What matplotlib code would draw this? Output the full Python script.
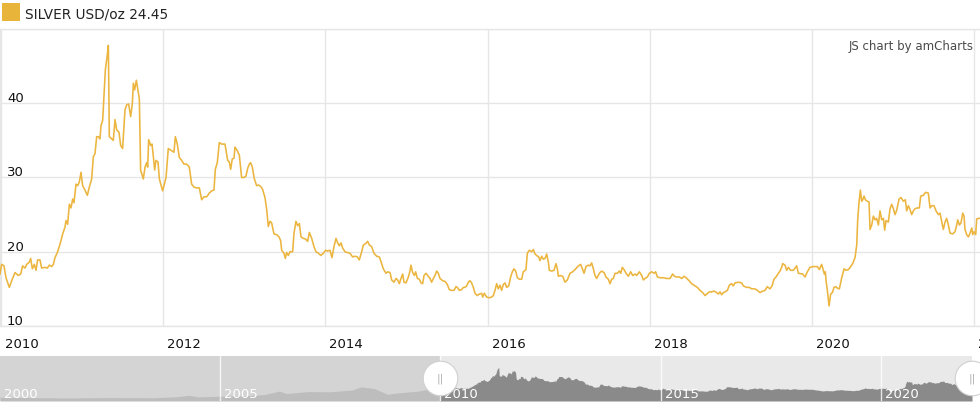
import matplotlib
matplotlib.use("Agg")
import matplotlib.pyplot as plt
from matplotlib import transforms
from matplotlib.patches import Rectangle

# ---------------- data ----------------
series_name = "SILVER USD/oz"
last_price = "24.45"

years = [
    2009.988, 2010.008, 2010.037, 2010.062, 2010.103, 2010.132, 2010.173, 2010.214, 2010.243, 2010.267,
    2010.296, 2010.317, 2010.350, 2010.366, 2010.387, 2010.411, 2010.432, 2010.452, 2010.481, 2010.502,
    2010.543, 2010.572, 2010.596, 2010.625, 2010.646, 2010.666, 2010.695, 2010.728, 2010.761, 2010.789,
    2010.802, 2010.822, 2010.843, 2010.863, 2010.884, 2010.900, 2010.925, 2010.946, 2010.966, 2010.987,
    2011.007, 2011.036, 2011.065, 2011.089, 2011.118, 2011.139, 2011.159, 2011.180, 2011.200, 2011.221,
    2011.233, 2011.254, 2011.270, 2011.287, 2011.311, 2011.324, 2011.336, 2011.365, 2011.385, 2011.406,
    2011.427, 2011.455, 2011.476, 2011.500, 2011.529, 2011.550, 2011.574, 2011.599, 2011.620, 2011.632,
    2011.648, 2011.669, 2011.685, 2011.706, 2011.722, 2011.755, 2011.776, 2011.796, 2011.809, 2011.821,
    2011.846, 2011.862, 2011.879, 2011.895, 2011.911, 2011.936, 2011.953,
    2011.993, 2012.010, 2012.035, 2012.063, 2012.104, 2012.133, 2012.150, 2012.174, 2012.199, 2012.228,
    2012.256, 2012.289, 2012.322, 2012.351, 2012.380, 2012.413, 2012.446, 2012.474, 2012.503, 2012.536,
    2012.569, 2012.598, 2012.626, 2012.643, 2012.667, 2012.692, 2012.721, 2012.762, 2012.795, 2012.815,
    2012.832, 2012.852, 2012.873, 2012.885, 2012.914, 2012.939, 2012.967, 2012.996, 2013.021, 2013.041,
    2013.062, 2013.078, 2013.099, 2013.124, 2013.152, 2013.173, 2013.202, 2013.226, 2013.255, 2013.276,
    2013.296, 2013.317, 2013.337, 2013.366, 2013.399, 2013.428, 2013.448, 2013.461, 2013.489, 2013.506,
    2013.522, 2013.543, 2013.563, 2013.596, 2013.613, 2013.637, 2013.658, 2013.679, 2013.699, 2013.728,
    2013.757, 2013.781, 2013.802, 2013.831, 2013.859, 2013.884, 2013.913, 2013.946, 2013.974, 2014.003,
    2014.028, 2014.057, 2014.081, 2014.106, 2014.131, 2014.151, 2014.172, 2014.192, 2014.213, 2014.242,
    2014.270,
    2014.303, 2014.336, 2014.365, 2014.394, 2014.418, 2014.447, 2014.468, 2014.497, 2014.521, 2014.542,
    2014.570, 2014.599, 2014.632, 2014.665, 2014.694, 2014.714, 2014.747, 2014.768, 2014.797, 2014.817,
    2014.846, 2014.871, 2014.891, 2014.912, 2014.932, 2014.953, 2014.969, 2014.994, 2015.023, 2015.043,
    2015.055, 2015.076, 2015.097, 2015.113, 2015.134, 2015.158, 2015.179, 2015.199, 2015.216, 2015.240,
    2015.269, 2015.290, 2015.310, 2015.331, 2015.351, 2015.372, 2015.392, 2015.413, 2015.446, 2015.475,
    2015.503, 2015.528, 2015.557, 2015.586, 2015.610, 2015.627, 2015.651, 2015.680, 2015.701, 2015.721,
    2015.742, 2015.762, 2015.783, 2015.803, 2015.824, 2015.845, 2015.873, 2015.898, 2015.927, 2015.939,
    2015.960, 2015.988, 2016.021, 2016.050, 2016.071, 2016.091, 2016.112, 2016.132, 2016.153, 2016.173,
    2016.194, 2016.214, 2016.235, 2016.260, 2016.284, 2016.305, 2016.325, 2016.346, 2016.367, 2016.391,
    2016.420, 2016.440, 2016.473, 2016.490, 2016.514, 2016.543, 2016.564, 2016.584, 2016.605, 2016.630,
    2016.646, 2016.667, 2016.687, 2016.708, 2016.728, 2016.749, 2016.761, 2016.790, 2016.819, 2016.843,
    2016.860, 2016.872,
    2016.893, 2016.926, 2016.954, 2016.983, 2017.016, 2017.049, 2017.078, 2017.119, 2017.148, 2017.172,
    2017.189, 2017.213, 2017.242, 2017.263, 2017.283, 2017.304, 2017.324, 2017.345, 2017.378, 2017.406,
    2017.435, 2017.460, 2017.489, 2017.509, 2017.530, 2017.550, 2017.571, 2017.600, 2017.624, 2017.641,
    2017.661, 2017.682, 2017.707, 2017.735, 2017.764, 2017.789, 2017.817, 2017.838, 2017.871, 2017.900,
    2017.920, 2017.941, 2017.970, 2017.994, 2018.023, 2018.052, 2018.072, 2018.093, 2018.126, 2018.167,
    2018.208, 2018.249, 2018.282, 2018.303, 2018.331, 2018.364, 2018.393, 2018.422, 2018.446, 2018.475,
    2018.516, 2018.557, 2018.586, 2018.619, 2018.652, 2018.681, 2018.701, 2018.734, 2018.763, 2018.792,
    2018.824, 2018.845, 2018.866, 2018.886, 2018.907, 2018.927, 2018.956, 2018.981, 2019.009, 2019.030,
    2019.050, 2019.092, 2019.133, 2019.153, 2019.194, 2019.227, 2019.256, 2019.297, 2019.326, 2019.359,
    2019.392, 2019.420, 2019.449, 2019.482, 2019.507, 2019.531, 2019.556, 2019.585, 2019.605, 2019.626,
    2019.638, 2019.667, 2019.687, 2019.708, 2019.737, 2019.770, 2019.811, 2019.831,
    2019.885, 2019.914, 2019.942, 2019.975, 2020.008, 2020.037, 2020.066, 2020.090, 2020.119, 2020.140,
    2020.152, 2020.164, 2020.173, 2020.189, 2020.210, 2020.230, 2020.251, 2020.271, 2020.292, 2020.312,
    2020.337, 2020.366, 2020.395, 2020.419, 2020.448, 2020.477, 2020.501, 2020.530, 2020.551, 2020.563,
    2020.579, 2020.596, 2020.612, 2020.625, 2020.641, 2020.658, 2020.682, 2020.703, 2020.715, 2020.736,
    2020.756, 2020.777, 2020.797, 2020.818, 2020.838, 2020.859, 2020.880, 2020.896, 2020.912, 2020.941,
    2020.962, 2020.982, 2021.003, 2021.023, 2021.044, 2021.073, 2021.097, 2021.126, 2021.151, 2021.167,
    2021.188, 2021.208, 2021.229, 2021.249, 2021.270, 2021.299, 2021.323, 2021.340, 2021.373, 2021.401,
    2021.434, 2021.455, 2021.475, 2021.504, 2021.529, 2021.558, 2021.578, 2021.599, 2021.619, 2021.640,
    2021.660, 2021.681, 2021.702, 2021.734, 2021.763, 2021.784, 2021.796, 2021.817, 2021.837, 2021.858,
    2021.874, 2021.886, 2021.907, 2021.928, 2021.948, 2021.969, 2021.981, 2021.997, 2022.018, 2022.030,
    2022.051, 2022.071,
]

prices = [
    17.0, 18.3, 18.1, 16.5, 15.2, 16.1, 17.2, 16.8, 17.0, 18.1,
    17.8, 18.3, 18.6, 19.1, 17.7, 18.3, 17.5, 18.9, 18.9, 17.8,
    17.9, 17.8, 18.2, 18.0, 18.3, 19.2, 19.9, 21.0, 22.4, 23.3,
    24.2, 23.7, 26.4, 25.9, 27.1, 26.6, 29.1, 28.9, 29.4, 30.7,
    28.9, 28.3, 27.6, 28.7, 29.8, 32.8, 33.2, 35.5, 35.5, 35.2,
    37.0, 37.7, 40.9, 44.5, 46.5, 47.8, 35.5, 35.2, 35.0, 37.8,
    36.4, 36.1, 34.3, 33.9, 39.1, 39.8, 39.9, 38.2, 40.0, 42.7,
    41.8, 43.1, 42.0, 40.6, 31.0, 29.8, 31.4, 32.0, 31.4, 35.1,
    34.3, 34.5, 32.8, 31.0, 32.3, 32.1, 29.8,
    28.2, 28.9, 30.0, 33.9, 33.6, 33.4, 35.5, 34.5, 32.7, 32.3,
    31.8, 31.8, 31.4, 29.1, 28.7, 28.6, 28.6, 27.0, 27.4, 27.4,
    27.9, 28.2, 28.3, 31.1, 32.0, 34.7, 34.5, 34.5, 32.3, 32.1,
    31.1, 32.5, 32.6, 34.1, 33.6, 33.0, 30.0, 30.0, 30.2, 31.2,
    31.8, 32.0, 31.4, 29.8, 28.9, 29.0, 28.8, 28.4, 27.3, 25.7,
    23.4, 24.1, 23.9, 22.4, 22.3, 22.0, 21.5, 20.2, 19.8, 19.1,
    19.9, 19.5, 20.0, 20.0, 22.5, 24.1, 23.5, 23.8, 22.0, 21.8,
    21.7, 21.4, 22.6, 21.8, 20.7, 20.0, 19.8, 19.5, 19.8, 20.2,
    20.1, 20.2, 19.2, 20.7, 21.8, 21.2, 20.8, 21.2, 20.5, 20.0,
    19.9,
    19.8, 19.3, 19.4, 19.3, 18.9, 20.0, 20.9, 21.1, 21.4, 20.9,
    20.7, 19.8, 19.4, 19.3, 18.4, 17.7, 17.1, 17.3, 17.2, 16.2,
    15.9, 16.4, 16.2, 15.7, 16.4, 17.0, 15.9, 15.8, 16.6, 17.4,
    18.2, 17.2, 16.8, 17.3, 16.4, 16.3, 15.8, 15.7, 16.8, 17.1,
    16.7, 16.4, 15.9, 16.4, 16.8, 17.4, 17.1, 16.4, 16.1, 16.0,
    15.6, 14.9, 14.8, 14.8, 15.3, 15.2, 14.8, 14.9, 15.2, 15.2,
    15.4, 15.9, 16.1, 15.8, 15.2, 14.4, 14.1, 14.3, 14.4, 13.9,
    14.4, 13.9, 13.8, 13.9, 14.1, 14.8, 15.7, 15.0, 15.5, 14.8,
    15.6, 15.8, 15.2, 15.4, 16.6, 17.3, 17.7, 17.4, 16.5, 16.3,
    16.3, 17.3, 17.6, 19.8, 20.2, 20.0, 20.3, 19.7, 19.5, 19.3,
    18.8, 19.4, 19.0, 19.1, 19.7, 18.6, 17.5, 17.4, 17.5, 18.4,
    17.7, 16.7,
    16.8, 16.7, 15.9, 16.2, 17.1, 17.3, 17.6, 18.1, 18.3, 17.6,
    17.1, 18.0, 18.2, 18.1, 18.5, 17.7, 16.8, 16.4, 17.1, 17.4,
    17.2, 16.6, 16.3, 15.7, 16.3, 16.4, 17.1, 17.1, 17.4, 17.1,
    17.9, 17.6, 17.1, 16.7, 17.3, 16.8, 17.0, 16.8, 17.3, 16.8,
    16.2, 16.4, 16.6, 17.1, 17.3, 17.1, 17.3, 16.6, 16.5, 16.5,
    16.4, 16.4, 17.0, 16.7, 16.6, 16.6, 16.4, 16.7, 16.5, 16.2,
    15.7, 15.4, 15.2, 14.8, 14.5, 14.1, 14.3, 14.6, 14.6, 14.7,
    14.5, 14.3, 14.6, 14.2, 14.5, 14.6, 14.8, 15.5, 15.7, 15.4,
    15.8, 15.9, 15.8, 15.4, 15.2, 15.2, 15.0, 15.0, 14.8, 14.5,
    14.7, 14.8, 15.3, 15.0, 15.4, 16.3, 16.6, 17.1, 17.4, 17.9,
    18.4, 18.2, 17.5, 17.9, 17.5, 17.5, 18.1, 17.1,
    17.0, 16.6, 17.3, 17.9, 18.0, 18.0, 18.0, 17.6, 18.3, 17.5,
    17.0, 17.3, 16.1, 14.8, 12.7, 14.3, 14.5, 15.2, 15.3, 15.1,
    15.0, 16.5, 17.7, 17.5, 17.6, 18.0, 18.4, 19.2, 20.9, 24.3,
    26.6, 28.3, 26.8, 27.0, 27.5, 27.0, 26.8, 26.7, 23.0, 23.6,
    24.8, 24.3, 24.5, 23.6, 25.5, 24.3, 24.5, 22.9, 24.2, 24.0,
    25.8, 26.4, 25.8, 25.0, 25.6, 27.1, 27.3, 26.8, 27.0, 25.5,
    26.2, 25.7, 25.0, 25.5, 25.8, 25.9, 25.9, 27.5, 27.6, 28.0,
    27.9, 25.9, 26.2, 26.2, 25.5, 25.0, 25.2, 24.1, 23.0, 24.0,
    24.5, 23.6, 22.5, 22.4, 22.7, 23.6, 24.3, 23.6, 23.9, 25.2,
    24.8, 23.0, 22.3, 22.0, 22.5, 23.2, 22.3, 22.7, 22.3, 24.4,
    24.5, 24.5,
]

# navigator history before the zoomed window
hist_years = [2000.0, 2000.5, 2001.0, 2001.5, 2002.0, 2002.5, 2003.0, 2003.5, 2004.0, 2004.3,
              2004.5, 2005.0, 2005.5, 2006.0, 2006.35, 2006.5, 2007.0, 2007.5, 2008.0, 2008.2,
              2008.5, 2008.8, 2009.0, 2009.5, 2009.8]
hist_prices = [5.3, 5.0, 4.6, 4.3, 4.5, 4.8, 4.7, 4.6, 6.0, 8.0,
               5.8, 6.8, 7.1, 9.0, 14.0, 10.5, 13.3, 13.0, 15.5, 20.0,
               17.5, 9.5, 11.2, 14.0, 17.5]

x_tick_years = [2010, 2012, 2014, 2016, 2018, 2020, 2022]
y_ticks = [10, 20, 30, 40]
y_limits = (10, 50)
nav_label_years = [2000, 2005, 2010, 2015, 2020]
window_start = 2010

# ---------------- style ----------------
LINE = "#EBB53F"
SWATCH = "#E8B53A"
GRID = "#e6e6e6"
TXT = "#111111"

W, H = 980, 410
fig = plt.figure(figsize=(W / 100, H / 100), dpi=100)
fig.patch.set_facecolor("white")


def box(x0, y0, x1, y1):
    return [x0 / W, 1 - y1 / H, (x1 - x0) / W, (y1 - y0) / H]


# ---------------- main chart ----------------
ax = fig.add_axes(box(0, 30, 980, 327))
ax.plot(years, prices, color=LINE, lw=1.15, solid_joinstyle="round", zorder=3)
ax.set_xlim(2009.988, 2022.071)
ax.set_ylim(*y_limits)
ax.set_xticks(x_tick_years)
ax.set_yticks(y_ticks + [y_limits[1]])
ax.grid(True, color=GRID, lw=1.0)
ax.tick_params(length=0, labelbottom=False, labelleft=False)
for s in ["top", "left", "bottom"]:
    ax.spines[s].set_color(GRID)
    ax.spines[s].set_linewidth(1.0)
ax.spines["right"].set_visible(False)

ytrans = transforms.blended_transform_factory(ax.transAxes, ax.transData)
ytrans = transforms.offset_copy(ytrans, fig=fig, x=7, y=2, units="dots")
for v in y_ticks:
    ax.text(0, v, str(v), transform=ytrans, ha="left", va="baseline",
            fontsize=9.5, color=TXT, zorder=4)

xtrans = transforms.offset_copy(ax.transData, fig=fig, x=4, y=-21, units="dots")
for yv in x_tick_years:
    ax.text(yv, y_limits[0], str(yv), transform=xtrans, ha="left", va="baseline",
            fontsize=9.5, color=TXT, clip_on=False)

ax.text(0.994, 0.965, "JS chart by amCharts", transform=ax.transAxes,
        ha="right", va="top", fontsize=8.5, color="#4a4a4a")

# ---------------- legend ----------------
fig.patches.append(Rectangle((2 / W, 1 - 22 / H), 18 / W, 18 / H, transform=fig.transFigure,
                             facecolor=SWATCH, edgecolor="none"))
fig.text(25 / W, 1 - 14 / H, f"{series_name} {last_price}", ha="left", va="center",
         fontsize=9.8, color="#222222")

# ---------------- navigator / scrollbar ----------------
nav = fig.add_axes(box(0, 357, 972, 402))
nav.set_xlim(hist_years[0], years[-1])
nav.set_ylim(0, 63.5)
nav.axis("off")
nav.axvspan(hist_years[0], window_start, color="#d4d4d4", lw=0, zorder=0)
nav.axvspan(window_start, years[-1], color="#e9e9e9", lw=0, zorder=0)
nav.fill_between(hist_years + [years[0]], hist_prices + [prices[0]], 0,
                 color="#bdbdbd", lw=0, zorder=1)
nav.fill_between(years, prices, 0, color="#8a8a8a", lw=0, zorder=1)
for yv in nav_label_years:
    if yv > hist_years[0]:
        nav.axvline(yv, color="white", lw=1, alpha=0.8, zorder=2)
ntrans = transforms.offset_copy(nav.transData, fig=fig, x=4, y=4, units="dots")
for yv in nav_label_years:
    nav.text(yv, 0, str(yv), transform=ntrans, ha="left", va="baseline",
             fontsize=9.5, color="white", zorder=3)
grip_x = [window_start, years[-1]]
nav.scatter(grip_x, [33, 33], s=620, facecolor="white", edgecolor="#d0d0d0",
            lw=0.8, zorder=5, clip_on=False)
for gx in grip_x:
    nav.text(gx, 33, "||", ha="center", va="center", fontsize=8, color="#b0b0b0",
             zorder=6, clip_on=False)

fig.savefig("out.png", dpi=100, facecolor="white")
